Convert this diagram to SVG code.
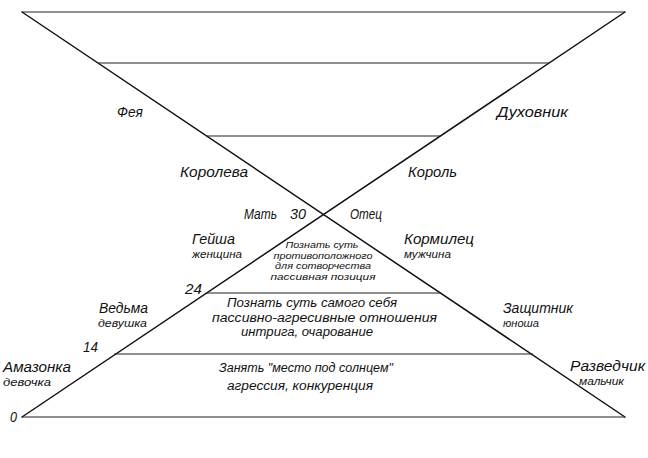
<svg xmlns="http://www.w3.org/2000/svg" width="648" height="458" viewBox="0 0 648 458">
<style>
.ln{stroke:#111;stroke-width:1.5;fill:none;stroke-linecap:round}
.hl{stroke:#222;stroke-width:1.2;fill:none}
text{font-family:"Liberation Sans","DejaVu Sans",sans-serif;font-style:italic;fill:#111}
.L{font-size:14px}
.S{font-size:11px}
.M{font-size:12.5px}
.C{font-size:9.5px;text-anchor:middle}
.N{font-size:14px}
</style>
<rect width="648" height="458" fill="#fff"/>
<g id="lines">
<line class="hl" x1="22" y1="12" x2="625" y2="12"/>
<line class="ln" x1="22" y1="12" x2="625" y2="417"/>
<line class="ln" x1="625" y1="12" x2="22" y2="417"/>
<line class="hl" x1="98" y1="63" x2="549" y2="63"/>
<line class="hl" x1="206" y1="136" x2="441" y2="136"/>
<line class="hl" x1="206" y1="293" x2="441" y2="293"/>
<line class="hl" x1="114" y1="354" x2="533" y2="354"/>
<line class="hl" x1="22" y1="417" x2="625" y2="417"/>
</g>
<g id="fairy"><text class="L" x="117" y="117" textLength="26" lengthAdjust="spacingAndGlyphs">Фея</text></g>
<g id="spiritual"><text class="L" x="497" y="117" textLength="71" lengthAdjust="spacingAndGlyphs">Духовник</text></g>
<g id="queen"><text class="L" x="180" y="177" textLength="68" lengthAdjust="spacingAndGlyphs">Королева</text></g>
<g id="king"><text class="L" x="408" y="177" textLength="49" lengthAdjust="spacingAndGlyphs">Король</text></g>
<g id="mother"><text class="L" x="244" y="219" textLength="33" lengthAdjust="spacingAndGlyphs">Мать</text></g>
<g id="age30"><text class="N" x="290" y="219" textLength="16" lengthAdjust="spacingAndGlyphs">30</text></g>
<g id="father"><text class="L" x="350" y="219" textLength="32" lengthAdjust="spacingAndGlyphs">Отец</text></g>
<g id="geisha">
<text class="L" x="192" y="244" textLength="43" lengthAdjust="spacingAndGlyphs">Гейша</text>
<text class="S" x="192" y="257.5" textLength="50" lengthAdjust="spacingAndGlyphs">женщина</text>
</g>
<g id="breadwinner">
<text class="L" x="404" y="244" textLength="70" lengthAdjust="spacingAndGlyphs">Кормилец</text>
<text class="S" x="404" y="257.5" textLength="47" lengthAdjust="spacingAndGlyphs">мужчина</text>
</g>
<g id="stage3">
<text class="C" x="322" y="248" textLength="73" lengthAdjust="spacingAndGlyphs">Познать суть</text>
<text class="C" x="323" y="258.7" textLength="99" lengthAdjust="spacingAndGlyphs">противоположного</text>
<text class="C" x="323" y="269.4" textLength="96" lengthAdjust="spacingAndGlyphs">для сотворчества</text>
<text class="C" x="323" y="280.1" textLength="105" lengthAdjust="spacingAndGlyphs">пассивная позиция</text>
</g>
<g id="age24"><text class="N" x="185" y="294" textLength="17" lengthAdjust="spacingAndGlyphs">24</text></g>
<g id="stage2">
<text class="M" x="227" y="307" textLength="170" lengthAdjust="spacingAndGlyphs">Познать суть самого себя</text>
<text class="M" x="212" y="322" textLength="225" lengthAdjust="spacingAndGlyphs">пассивно-агресивные  отношения</text>
<text class="M" x="241" y="336" textLength="132" lengthAdjust="spacingAndGlyphs">интрига, очарование</text>
</g>
<g id="witch">
<text class="L" x="99" y="313" textLength="49" lengthAdjust="spacingAndGlyphs">Ведьма</text>
<text class="S" x="98" y="327" textLength="49" lengthAdjust="spacingAndGlyphs">девушка</text>
</g>
<g id="defender">
<text class="L" x="503" y="313" textLength="70" lengthAdjust="spacingAndGlyphs">Защитник</text>
<text class="S" x="503" y="326.5" textLength="36" lengthAdjust="spacingAndGlyphs">юноша</text>
</g>
<g id="age14"><text class="N" x="83" y="352" textLength="15" lengthAdjust="spacingAndGlyphs">14</text></g>
<g id="amazon">
<text class="L" x="3" y="372" textLength="68" lengthAdjust="spacingAndGlyphs">Амазонка</text>
<text class="S" x="3" y="385.5" textLength="48" lengthAdjust="spacingAndGlyphs">девочка</text>
</g>
<g id="stage1">
<text class="M" x="219" y="372" textLength="174" lengthAdjust="spacingAndGlyphs">Занять "место под солнцем"</text>
<text class="M" x="227" y="390" textLength="146" lengthAdjust="spacingAndGlyphs">агрессия, конкуренция</text>
</g>
<g id="scout">
<text class="L" x="570" y="371" textLength="75" lengthAdjust="spacingAndGlyphs">Разведчик</text>
<text class="S" x="579" y="384.5" textLength="45" lengthAdjust="spacingAndGlyphs">мальчик</text>
</g>
<g id="age0"><text class="N" x="10" y="422" textLength="7" lengthAdjust="spacingAndGlyphs">0</text></g>
</svg>
